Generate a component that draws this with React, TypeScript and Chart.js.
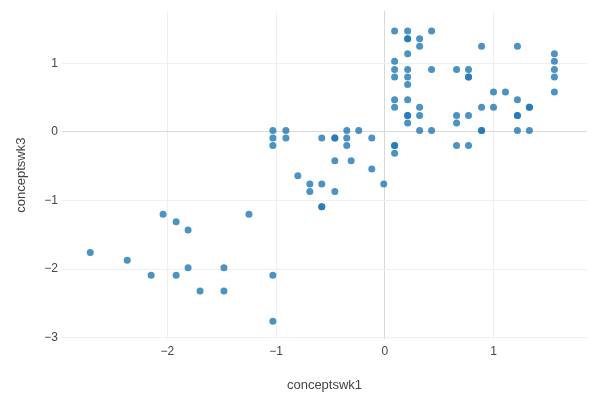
import React, { useEffect, useRef } from "react";
import { Chart, registerables } from "chart.js";

Chart.register(...registerables);

const xTitle = "conceptswk1";
const yTitle = "conceptswk3";
const xTicks = [-2, -1, 0, 1];
const yTicks = [-3, -2, -1, 0, 1];

const xValues = [
  // lower-left group
  -2.71, -2.37, -2.15, -2.04, -1.92, -1.92, -1.81, -1.81, -1.70, -1.48, -1.48, -1.25, -1.03, -1.03,
  // middle group
  -1.03, -0.91, -0.35, -0.24,
  -1.03, -0.91, -0.58, -0.46, -0.46, -0.35, -0.12,
  -1.03, -0.35,
  -0.46, -0.31,
  -0.12,
  -0.80,
  -0.69, -0.58, -0.01,
  -0.69, -0.46,
  -0.58, -0.58,
  // upper-right group
  0.09, 0.21, 0.43,
  0.21, 0.21, 0.32,
  0.32, 0.89, 1.22,
  0.21, 1.56,
  0.09, 1.56,
  0.09, 0.21, 0.43, 0.66, 0.77, 1.56,
  0.09, 0.21, 0.77, 0.77, 1.56,
  0.21,
  1.00, 1.11, 1.56,
  0.09, 0.21, 1.22,
  0.09, 0.32, 0.89, 1.00, 1.33, 1.33,
  0.21, 0.21, 0.32, 0.66, 0.77, 1.22, 1.22,
  0.21, 0.66,
  0.32, 0.43, 0.89, 0.89, 1.22, 1.33,
  0.09, 0.09, 0.66, 0.77,
  0.09,
];

const yValues = [
  // lower-left group
  -1.76, -1.87, -2.09, -1.20, -1.31, -2.09, -1.43, -1.98, -2.32, -1.98, -2.32, -1.20, -2.09, -2.76,
  // middle group
  0.02, 0.02, 0.02, 0.02,
  -0.09, -0.09, -0.09, -0.09, -0.09, -0.09, -0.09,
  -0.20, -0.20,
  -0.42, -0.42,
  -0.54,
  -0.64,
  -0.76, -0.76, -0.76,
  -0.87, -0.87,
  -1.09, -1.09,
  // upper-right group
  1.47, 1.47, 1.47,
  1.36, 1.36, 1.36,
  1.25, 1.25, 1.25,
  1.14, 1.14,
  1.03, 1.03,
  0.91, 0.91, 0.91, 0.91, 0.91, 0.91,
  0.80, 0.80, 0.80, 0.80, 0.80,
  0.69,
  0.58, 0.58, 0.58,
  0.47, 0.47, 0.47,
  0.36, 0.36, 0.36, 0.36, 0.36, 0.36,
  0.24, 0.24, 0.24, 0.24, 0.24, 0.24, 0.24,
  0.13, 0.13,
  0.02, 0.02, 0.02, 0.02, 0.02, 0.02,
  -0.20, -0.20, -0.20, -0.20,
  -0.31,
];

const FONT = "'Liberation Sans', Arial, Helvetica, sans-serif";

function fmt(v: number): string {
  return v < 0 ? "\u2212" + Math.abs(v) : String(v);
}

export default function App() {
  const canvasRef = useRef<HTMLCanvasElement | null>(null);

  useEffect(() => {
    const canvas = canvasRef.current;
    if (!canvas) return;
    const points = xValues.map((x, i) => ({ x, y: yValues[i] }));
    const chart = new Chart(canvas, {
      type: "scatter",
      data: {
        datasets: [
          {
            data: points,
            backgroundColor: "rgba(31,119,180,0.8)",
            borderWidth: 0,
            pointRadius: 3.5,
          },
        ],
      },
      options: {
        responsive: false,
        animation: false,
        layout: { padding: { top: 6, right: 13, left: 0, bottom: 0 } },
        plugins: { legend: { display: false }, tooltip: { enabled: false } },
        scales: {
          x: {
            type: "linear",
            min: -2.97,
            max: 1.86,
            afterBuildTicks: (scale: any) => {
              scale.ticks = xTicks.map((v) => ({ value: v }));
            },
            afterFit: (scale: any) => {
              scale.height = 61;
            },
            grid: {
              drawTicks: false,
              color: (ctx: any) => (ctx.tick && ctx.tick.value === 0 ? "#d8d8d8" : "#efefef"),
              lineWidth: 1,
            },
            border: { display: false },
            ticks: {
              padding: 5,
              color: "#444",
              font: { family: FONT, size: 12 },
              callback: (v: any) => fmt(Number(v)),
            },
            title: {
              display: true,
              text: xTitle,
              color: "#444",
              font: { family: FONT, size: 13 },
              padding: { top: 0, bottom: 7 },
            },
          },
          y: {
            type: "linear",
            min: -3.02,
            max: 1.76,
            afterBuildTicks: (scale: any) => {
              scale.ticks = yTicks.map((v) => ({ value: v }));
            },
            afterFit: (scale: any) => {
              scale.width = 62;
            },
            grid: {
              drawTicks: false,
              color: (ctx: any) => (ctx.tick && ctx.tick.value === 0 ? "#d8d8d8" : "#efefef"),
              lineWidth: 1,
            },
            border: { display: false },
            ticks: {
              padding: 4,
              color: "#444",
              font: { family: FONT, size: 12 },
              callback: (v: any) => fmt(Number(v)),
            },
            title: {
              display: true,
              text: yTitle,
              color: "#444",
              font: { family: FONT, size: 13 },
              padding: { top: 14, bottom: 0 },
            },
          },
        },
      },
    });
    return () => chart.destroy();
  }, []);

  return (
    <div style={{ position: "absolute", left: 0, top: 0, width: 600, height: 400, background: "#fff" }}>
      <canvas ref={canvasRef} width={600} height={400} />
    </div>
  );
}
